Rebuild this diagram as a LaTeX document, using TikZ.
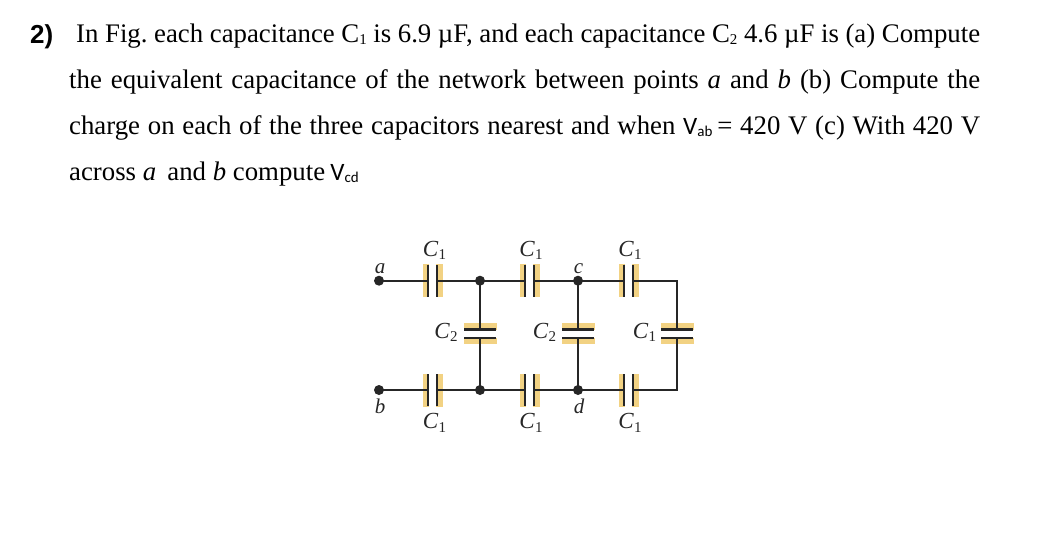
\documentclass[tikz,border=0pt]{standalone}
\usepackage{fontspec}
\setmainfont{Liberation Serif}
\newfontfamily\armfont{Liberation Sans}
\newfontfamily\calfont{Carlito}
\definecolor{capgold}{HTML}{F2D283}
\definecolor{wirecol}{HTML}{262626}
\frenchspacing
\newcommand{\capH}[3]{%
  \fill[capgold] (#2-10,#3-16.5) rectangle (#2-3.5,#3+16.5);
  \fill[capgold] (#2+3.5,#3-16.5) rectangle (#2+10,#3+16.5);
  \node[capbody,minimum width=8.5pt,minimum height=32pt] (#1) at (#2,#3) {};
  \draw[plate] (#1.north west) -- (#1.south west);
  \draw[plate] (#1.north east) -- (#1.south east);}
\newcommand{\capV}[3]{%
  \fill[capgold] (#2-16.5,#3-10.5) rectangle (#2+16.5,#3-4);
  \fill[capgold] (#2-16.5,#3+4) rectangle (#2+16.5,#3+10.5);
  \node[capbody,minimum width=32pt,minimum height=8.5pt] (#1) at (#2,#3) {};
  \draw[plate] (#1.north west) -- (#1.north east);
  \draw[plate] (#1.south west) -- (#1.south east);}
\newcommand{\Cname}[1]{\fontsize{23}{23}\selectfont\textit{C}\raisebox{-3.5pt}{\fontsize{15}{15}\selectfont #1}}
\newcommand{\low}[1]{\raisebox{-1.5pt}{\fontsize{15}{15}\selectfont #1}}
\newcommand{\calsub}[2]{{\calfont\fontsize{25}{25}\selectfont #1\raisebox{-2pt}{\fontsize{15}{15}\selectfont #2}}}
\tikzset{
  x=1pt,y=-1pt,
  capbody/.style={inner sep=0pt,outer sep=0pt,shape=rectangle},
  plate/.style={line width=2.4pt,draw=wirecol},
  wire/.style={line width=2pt,draw=wirecol},
  dotnode/.style={circle,fill=wirecol,inner sep=0pt,minimum size=10pt},
  textline/.style={anchor=base west,inner sep=0pt,font=\fontsize{26.8}{27}\selectfont},
  cl/.style={inner sep=0pt,text=black!85},
  pt/.style={inner sep=0pt,font=\fontsize{21}{21}\selectfont\itshape,text=black!85}
}
\begin{document}
\begin{tikzpicture}
\useasboundingbox (0,0) rectangle (1038,542);
\fill[white] (0,0) rectangle (1038,542);
% text
\node[textline,font=\armfont\bfseries\fontsize{26}{26}\selectfont] (num) at (30,43) {2)};
\node[textline] (l1) at (76,42.5) {\hbox to 904pt{In Fig. each capacitance C\low{1} is 6.9 µF, and each capacitance C\low{2} 4.6 µF is (a) Compute}};
\node[textline] (l2) at (69,88.5) {\hbox to 911pt{the equivalent capacitance of the network between points \textit{a} and \textit{b} (b) Compute the}};
\node[textline] (l3) at (69,134.5) {\hbox to 911pt{charge on each of the three capacitors nearest and when \calsub{V}{ab}\kern5pt= 420 V (c) With 420 V}};
\node[textline] (l4) at (69,180.5) {across \textit{a}\, and \textit{b} compute\kern-1.5pt\ \calsub{V}{cd}};
% capacitors
\capH{ct1}{432.5}{280.7}
\capH{ct2}{529.5}{280.7}
\capH{ct3}{628.5}{280.7}
\capH{cb1}{432.5}{390}
\capH{cb2}{529.5}{390}
\capH{cb3}{628.5}{390}
\capV{cv1}{480}{333.7}
\capV{cv2}{578}{333.7}
\capV{cv3}{677}{333.7}
% terminals and junctions
\node[dotnode] (a) at (379,280.7) {};
\node[dotnode] (b) at (379,390) {};
\node[dotnode] (j1) at (480,280.7) {};
\node[dotnode] (c) at (578,280.7) {};
\node[dotnode] (j2) at (480,390) {};
\node[dotnode] (d) at (578,390) {};
% wires
\draw[wire] (a.center) -- (ct1.west);
\draw[wire] (ct1.east) -- (j1.center);
\draw[wire] (j1.center) -- (ct2.west);
\draw[wire] (ct2.east) -- (c.center);
\draw[wire] (c.center) -- (ct3.west);
\draw[wire,line join=miter] (ct3.east) -| (cv3.north);
\draw[wire] (b.center) -- (cb1.west);
\draw[wire] (cb1.east) -- (j2.center);
\draw[wire] (j2.center) -- (cb2.west);
\draw[wire] (cb2.east) -- (d.center);
\draw[wire] (d.center) -- (cb3.west);
\draw[wire,line join=miter] (cb3.east) -| (cv3.south);
\draw[wire] (j1.center) -- (cv1.north);
\draw[wire] (cv1.south) -- (j2.center);
\draw[wire] (c.center) -- (cv2.north);
\draw[wire] (cv2.south) -- (d.center);
% labels
\node[cl] (lt1) at (434.5,250.5) {\Cname{1}};
\node[cl] (lt2) at (531,250.5) {\Cname{1}};
\node[cl] (lt3) at (630,250.5) {\Cname{1}};
\node[cl] (lb1) at (434.5,423) {\Cname{1}};
\node[cl] (lb2) at (531,423) {\Cname{1}};
\node[cl] (lb3) at (630,423) {\Cname{1}};
\node[cl] (lv1) at (446,332.5) {\Cname{2}};
\node[cl] (lv2) at (544.5,332.5) {\Cname{2}};
\node[cl] (lv3) at (644.5,332.5) {\Cname{1}};
\node[pt] (ta) at (380,268.5) {a};
\node[pt] (tb) at (380,406.5) {b};
\node[pt] (tc) at (578.5,268.5) {c};
\node[pt] (td) at (579,406.5) {d};
\end{tikzpicture}
\end{document}
